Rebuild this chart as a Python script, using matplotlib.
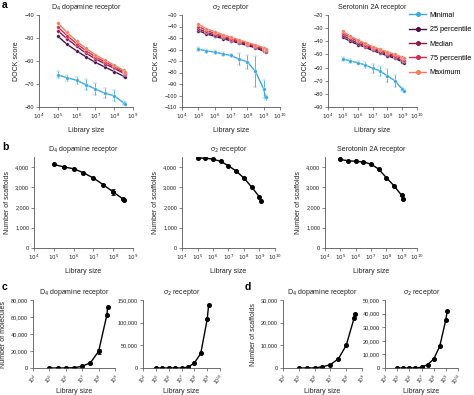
import numpy as np
import matplotlib.pyplot as plt
from matplotlib.lines import Line2D
from matplotlib.ticker import FuncFormatter, FixedLocator

plt.rcParams['font.family'] = ['Liberation Sans', 'DejaVu Sans']
plt.rcParams['axes.linewidth'] = 0.6
plt.rcParams['axes.edgecolor'] = '#555555'
plt.rcParams['xtick.color'] = '#555555'
plt.rcParams['ytick.color'] = '#555555'
plt.rcParams['xtick.labelcolor'] = '#222222'
plt.rcParams['ytick.labelcolor'] = '#222222'

W, H = 474, 395

# library sizes
size_d4 = [1e5, 3.16e5, 1e6, 3.16e6, 1e7, 3.16e7, 1e8, 3.16e8, 3.6e8]
size_s2 = [1e5, 3.16e5, 1e6, 3.16e6, 1e7, 3.16e7, 1e8, 3.16e8, 1e9, 1.3e9]
size_ht = [1e5, 3.16e5, 1e6, 3.16e6, 1e7, 3.16e7, 1e8, 3.16e8, 1e9, 1.3e9]

# panel a: DOCK scores
d4_min = [-66, -67.3, -68.4, -70.3, -72.2, -74, -75.1, -78.2, -78.5]
d4_min_err = [1.5, 1.2, 1.5, 2.5, 2.5, 2.3, 2.5, 0.8, 0.8]
d4_p25 = [-49.2, -52.8, -55.6, -58.2, -60.6, -62.6, -64.6, -66.6, -67]
d4_med = [-46.8, -50.4, -53.6, -56.6, -59.1, -61.2, -63.2, -65.3, -65.8]
d4_p75 = [-45.2, -49, -52.5, -55.5, -58.2, -60.4, -62.5, -64.7, -65.2]
d4_max = [-43.5, -47.6, -51.4, -54.5, -57.3, -59.6, -61.8, -64.1, -64.6]

s2_min = [-59.7, -61.2, -62.3, -63.8, -65.2, -68.4, -70.7, -79.1, -94.4, -101.6]
s2_min_err = [1.5, 1.5, 1.7, 1.5, 1.0, 5.5, 6, 13.5, 7.5, 2]
s2_p25 = [-43.6, -46.5, -48.5, -50.5, -52.5, -54.5, -56.5, -58.5, -61.5, -62.5]
s2_med = [-42, -45, -47.5, -49.5, -51.5, -53.5, -55.5, -57.8, -60.5, -61.5]
s2_p75 = [-40, -43.5, -46, -48.5, -50.5, -52.5, -55, -57, -59.5, -60.5]
s2_max = [-38, -42, -44.5, -47, -49.5, -51.5, -54, -56, -58.5, -59.5]

ht_min = [-53.3, -55, -56.3, -58, -60.5, -62.5, -66.3, -70, -76.3, -77.5]
ht_min_err = [1.5, 1.5, 1.0, 2.5, 3.5, 4, 5, 4.5, 1.5, 1]
ht_p25 = [-37, -40, -42.5, -44.5, -47, -49, -51, -53, -55.5, -56.3]
ht_med = [-35.5, -38.5, -41.5, -43.5, -46, -48, -50, -52, -54.5, -55]
ht_p75 = [-34, -37, -40, -42.5, -45, -47, -49, -51, -53, -54]
ht_max = [-32.5, -36, -39, -41.5, -44, -46, -48, -50, -52, -52.5]

# panel b: number of scaffolds among top hits
d4_scaf = [4130, 4010, 3920, 3720, 3460, 3130, 2770, 2420, 2350]
d4_scaf_err = [0, 0, 0, 0, 0, 0, 150, 0, 0]
s2_scaf = [4460, 4440, 4395, 4280, 4066, 3800, 3457, 3012, 2518, 2321]
ht_scaf = [4380, 4310, 4290, 4250, 4150, 3900, 3480, 3080, 2600, 2430]

# panel c: number of molecules
d4_mol = [0, 0, 50, 300, 2000, 6200, 19500, 62000, 71500]
d4_mol_err = [0, 0, 0, 0, 0, 0, 2500, 0, 0]
s2_mol = [0, 0, 0, 0, 200, 1500, 11000, 32000, 107000, 139000]

# panel d: number of scaffolds
d4_sc = [0, 0, 50, 500, 1500, 4000, 10000, 22000, 24000]
s2_sc = [0, 0, 0, 50, 500, 2500, 6500, 16000, 35500, 42000]

series_labels = ['Minimal', '25 percentile', 'Median', '75 percentile', 'Maximum']
col_min = '#3EA8DE'
col_p25 = '#4A1247'
col_med = '#8A1B4C'
col_p75 = '#D62A4C'
col_max = '#F57C5C'

fig = plt.figure(figsize=(W / 100, H / 100), dpi=100)


def add_ax(x0, y0, x1, y1):
    return fig.add_axes([x0 / W, 1 - y1 / H, (x1 - x0) / W, (y1 - y0) / H])


def style(ax, title, ylabel, dec_lo, dec_hi, rotate=False):
    ax.set_xscale('log')
    ax.set_xlim(10 ** dec_lo, 10 ** dec_hi)
    ax.xaxis.set_major_locator(FixedLocator([10.0 ** k for k in range(dec_lo, dec_hi + 1)]))
    ax.xaxis.set_minor_locator(FixedLocator([]))
    ax.xaxis.set_major_formatter(FuncFormatter(lambda v, p: '$10^{%d}$' % round(np.log10(v))))
    for s in ['top', 'right']:
        ax.spines[s].set_visible(False)
    ax.tick_params(length=2, width=0.5, labelsize=4, pad=1.5)
    ax.set_title(title, fontsize=5, pad=4, color='#222222')
    ax.set_ylabel(ylabel, fontsize=5, labelpad=3, color='#222222')
    ax.set_xlabel('Library size', fontsize=5, labelpad=4, color='#222222')
    if rotate:
        ax.tick_params(axis='x', labelsize=3.3, pad=1)
        for lab in ax.get_xticklabels():
            lab.set_rotation(45)
            lab.set_ha('right')
            lab.set_rotation_mode('anchor')
        ax.xaxis.set_label_coords(0.5, -0.3)


comma = FuncFormatter(lambda v, p: '{:,.0f}'.format(v))
mk = dict(marker='o', markersize=2.6, lw=1.0, markeredgecolor='white', markeredgewidth=0.25)


def dock_panel(ax, xs, mn, err, p25, med, p75, mx):
    ax.errorbar(xs, mn, yerr=err, color=col_min, capsize=1.5, elinewidth=0.6, capthick=0.6, **mk)
    ax.plot(xs, p25, color=col_p25, **mk)
    ax.plot(xs, med, color=col_med, **mk)
    ax.plot(xs, p75, color=col_p75, **mk)
    ax.plot(xs, mx, color=col_max, **mk)


# ---- row a
ax = add_ax(39, 15, 133, 107)
dock_panel(ax, size_d4, d4_min, d4_min_err, d4_p25, d4_med, d4_p75, d4_max)
ax.set_ylim(-80, -40)
ax.set_yticks(range(-80, -39, 10))
style(ax, 'D$_4$ dopamine receptor', 'DOCK score', 4, 9)

ax = add_ax(182, 15, 280, 107)
dock_panel(ax, size_s2, s2_min, s2_min_err, s2_p25, s2_med, s2_p75, s2_max)
ax.set_ylim(-110, -30)
ax.set_yticks(range(-110, -29, 10))
style(ax, '\u03c3$_2$ receptor', 'DOCK score', 4, 10)

ax = add_ax(328, 15, 417, 107)
dock_panel(ax, size_ht, ht_min, ht_min_err, ht_p25, ht_med, ht_p75, ht_max)
ax.set_ylim(-90, -20)
ax.set_yticks(range(-90, -19, 10))
style(ax, 'Serotonin 2A receptor', 'DOCK score', 4, 10)

handles = [Line2D([], [], color=c, marker='o', markersize=2.6, lw=1.0)
           for c in [col_min, col_p25, col_med, col_p75, col_max]]
fig.legend(handles, series_labels, loc='upper left', bbox_to_anchor=(406 / W, 1 - 9 / H), frameon=False,
           fontsize=5.2, handlelength=2.4, labelspacing=1.0, handletextpad=0.5, borderaxespad=0)

# ---- row b
blk = dict(color='black', marker='o', markersize=2.6, lw=1.0, capsize=1.5, elinewidth=0.6, capthick=0.6)

ax = add_ax(34, 157, 133, 248)
ax.errorbar(size_d4, d4_scaf, yerr=d4_scaf_err, **blk)
ax.set_ylim(0, 4500)
ax.set_yticks(range(0, 4001, 1000))
ax.yaxis.set_major_formatter(comma)
style(ax, 'D$_4$ dopamine receptor', 'Number of scaffolds', 4, 9)

ax = add_ax(182, 157, 275, 248)
ax.errorbar(size_s2, s2_scaf, **blk)
ax.set_ylim(0, 4500)
ax.set_yticks(range(0, 4001, 1000))
ax.yaxis.set_major_formatter(comma)
style(ax, '\u03c3$_2$ receptor', 'Number of scaffolds', 4, 10)

ax = add_ax(325, 157, 417, 248)
ax.errorbar(size_ht, ht_scaf, **blk)
ax.set_ylim(0, 4500)
ax.set_yticks(range(0, 4001, 1000))
ax.yaxis.set_major_formatter(comma)
style(ax, 'Serotonin 2A receptor', 'Number of scaffolds', 4, 10)

# ---- row c
ax = add_ax(33, 300, 115, 368)
ax.errorbar(size_d4, d4_mol, yerr=d4_mol_err, **blk)
ax.set_ylim(0, 80000)
ax.set_yticks(range(0, 80001, 20000))
ax.yaxis.set_major_formatter(comma)
style(ax, 'D$_4$ dopamine receptor', 'Number of molecules', 4, 9, rotate=True)

ax = add_ax(143, 300, 220, 368)
ax.errorbar(size_s2, s2_mol, **blk)
ax.set_ylim(0, 150000)
ax.set_yticks(range(0, 150001, 50000))
ax.yaxis.set_major_formatter(comma)
style(ax, '\u03c3$_2$ receptor', '', 4, 10, rotate=True)

# ---- row d
ax = add_ax(283, 300, 362, 368)
ax.errorbar(size_d4, d4_sc, **blk)
ax.set_ylim(0, 30000)
ax.set_yticks(range(0, 30001, 10000))
ax.yaxis.set_major_formatter(comma)
style(ax, 'D$_4$ dopamine receptor', 'Number of scaffolds', 4, 9, rotate=True)

ax = add_ax(385, 300, 458, 368)
ax.errorbar(size_s2, s2_sc, **blk)
ax.set_ylim(0, 50000)
ax.set_yticks(range(0, 50001, 10000))
ax.yaxis.set_major_formatter(comma)
style(ax, '\u03c3$_2$ receptor', '', 4, 10, rotate=True)

# panel letters
for letter, x, y in [('a', 2, 5), ('b', 2, 147), ('c', 2, 287), ('d', 245, 287)]:
    fig.text(x / W, 1 - y / H, letter, fontsize=7.5, fontweight='bold', va='center', ha='left')

fig.savefig('out.png', dpi=100)
